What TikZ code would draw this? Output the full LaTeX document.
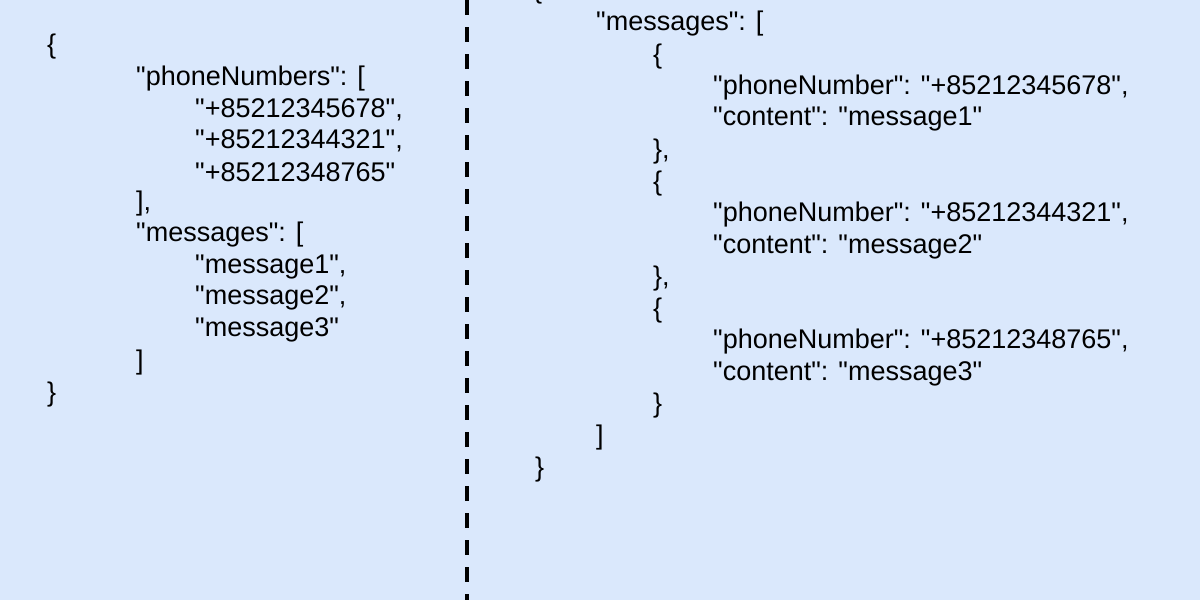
\documentclass[tikz,border=0pt]{standalone}
\usepackage{fontspec}
\setmainfont{Liberation Sans}[Ligatures=TeXOff]
\usetikzlibrary{positioning}
\definecolor{bgblue}{HTML}{DAE8FC}
\tikzstyle{txt}=[inner sep=0pt, anchor=west, font=\fontsize{27}{31}\selectfont]
\begin{document}
\begin{tikzpicture}[x=1pt, y=-1pt]
\fill[bgblue] (0,0) rectangle (1200,600);
\useasboundingbox (0,0) rectangle (1200,600);
\coordinate (T) at (467,0);
\coordinate (B) at (467,600);
\draw[line width=3.5pt, dash pattern=on 15pt off 12pt] (T) -- (B);
% left request
\node[txt] (L0) at (47,47) {\{};
\node[txt] (L1) at (136,79) {"phoneNumbers": [};
\node[txt] (L2) at (195,110) {"+85212345678",};
\node[txt] (L3) at (195,141) {"+85212344321",};
\node[txt] (L4) at (195,172) {"+85212348765"};
\node[txt] (L5) at (136,204) {],};
\node[txt] (L6) at (136,235) {"messages": [};
\node[txt] (L7) at (195,267) {"message1",};
\node[txt] (L8) at (195,298) {"message2",};
\node[txt] (L9) at (195,330) {"message3"};
\node[txt] (L10) at (136,363) {]};
\node[txt] (L11) at (47,395) {\}};
% right request
\node[txt] (R0) at (533,-8) {\{};
\node[txt] (R1) at (596,24) {"messages": [};
\node[txt] (R2) at (653,57) {\{};
\node[txt] (R3) at (713,88) {"phoneNumber": "+85212345678",};
\node[txt] (R4) at (713,119) {"content": "message1"};
\node[txt] (R5) at (653,152) {\},};
\node[txt] (R6) at (653,184) {\{};
\node[txt] (R7) at (713,215) {"phoneNumber": "+85212344321",};
\node[txt] (R8) at (713,247) {"content": "message2"};
\node[txt] (R9) at (653,279) {\},};
\node[txt] (R10) at (653,311) {\{};
\node[txt] (R11) at (713,342) {"phoneNumber": "+85212348765",};
\node[txt] (R12) at (713,374) {"content": "message3"};
\node[txt] (R13) at (653,406) {\}};
\node[txt] (R14) at (596,438) {]};
\node[txt] (R15) at (535,470) {\}};
\end{tikzpicture}
\end{document}
